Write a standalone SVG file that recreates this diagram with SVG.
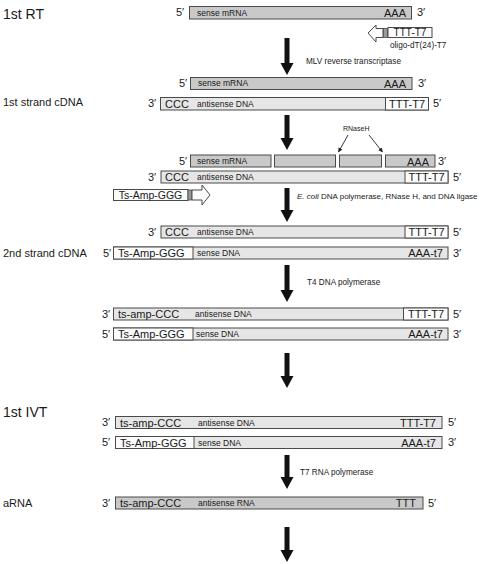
<svg xmlns="http://www.w3.org/2000/svg" width="480" height="564" viewBox="0 0 480 564">
<defs>
<style>
text{font-family:"Liberation Sans",Arial,sans-serif;fill:#1a1a1a}
.h1{font-size:14px}
.h2{font-size:11px}
.p{font-size:11px}
.s{font-size:11px}
.m{font-size:8.5px}
.lbl{font-size:8.2px}
.rn{font-size:7px}
.dk{fill:#c9c9c9;stroke:#4a4a4a;stroke-width:1}
.lt{fill:#e6e6e6;stroke:#4a4a4a;stroke-width:1}
.wt{fill:#fbfbfb;stroke:#4a4a4a;stroke-width:1}
.arr{fill:#111}
.thin{stroke:#222;stroke-width:0.9;fill:none}
</style>
<marker id="ah" viewBox="0 0 10 10" refX="9" refY="5" markerWidth="5" markerHeight="5" orient="auto">
<path d="M0,0 L10,5 L0,10 Z" fill="#222"/>
</marker>
</defs>
<rect width="480" height="564" fill="#ffffff"/>

<g id="stage-labels">
<text class="h1" x="3" y="19">1st RT</text>
<text class="h2" x="3" y="106">1st strand cDNA</text>
<text class="h2" x="3" y="257">2nd strand cDNA</text>
<text class="h1" x="3" y="417">1st IVT</text>
<text class="h2" x="3" y="507">aRNA</text>
</g>

<g id="row1-mRNA">
<text class="p" x="176" y="16">5′</text>
<rect class="dk" x="189.5" y="6.5" width="222" height="12.5"/>
<text class="m" x="197" y="15.5">sense mRNA</text>
<text class="s" x="406" y="17" text-anchor="end">AAA</text>
<text class="p" x="417" y="16">3′</text>
</g>

<g id="oligo-dT-T7">
<path class="wt" d="M368,33 L376,25 L376,28.5 L383,28.5 L383,37.5 L376,37.5 L376,42 Z"/>
<rect x="383.5" y="28.5" width="4" height="9" fill="#9a9a9a" stroke="#4a4a4a" stroke-width="0.8"/>
<rect class="wt" x="388" y="27.5" width="44" height="10"/>
<text x="410" y="36" text-anchor="middle" style="font-size:10px">TTT-T7</text>
<text class="lbl" x="390" y="48">oligo-dT(24)-T7</text>
</g>

<g id="label-mlv"><text class="lbl" x="306" y="64">MLV reverse transcriptase</text></g>

<g id="row2-mRNA">
<text class="p" x="179" y="87">5′</text>
<rect class="dk" x="190.5" y="77.5" width="221.5" height="12"/>
<text class="m" x="198" y="86">sense mRNA</text>
<text class="s" x="406" y="88" text-anchor="end">AAA</text>
<text class="p" x="418" y="87">3′</text>
</g>

<g id="row3-antisense">
<text class="p" x="148" y="107">3′</text>
<rect class="lt" x="160.5" y="97.5" width="268" height="12.5"/>
<rect class="wt" x="385.5" y="97.5" width="43" height="12.5"/>
<text class="s" x="165" y="107.5">CCC</text>
<text class="m" x="197" y="106.5">antisense DNA</text>
<text class="s" x="407" y="107.5" text-anchor="middle">TTT-T7</text>
<text class="p" x="433" y="107">5′</text>
</g>

<g id="label-rnaseh"><text class="rn" x="343" y="131">RNaseH</text></g>

<g id="row4-fragments">
<text class="p" x="179" y="165">5′</text>
<rect class="dk" x="190.5" y="155" width="80.5" height="12"/>
<rect class="dk" x="274.5" y="155" width="61" height="12"/>
<rect class="dk" x="339.5" y="155" width="42" height="12"/>
<rect class="dk" x="385.5" y="155" width="49.5" height="12"/>
<text class="m" x="197" y="163.5">sense mRNA</text>
<text class="s" x="429" y="165.5" text-anchor="end">AAA</text>
<text class="p" x="438" y="165">3′</text>
</g>

<g id="row5-antisense">
<text class="p" x="148" y="181">3′</text>
<rect class="lt" x="161" y="171" width="287" height="12"/>
<rect class="wt" x="405" y="171" width="43" height="12"/>
<text class="s" x="165" y="181">CCC</text>
<text class="m" x="197" y="180">antisense DNA</text>
<text class="s" x="426.5" y="181" text-anchor="middle">TTT-T7</text>
<text class="p" x="453" y="181">5′</text>
</g>

<g id="primer-ts-amp">
<rect class="wt" x="113.5" y="189.5" width="74.5" height="11"/>
<text x="150.5" y="198.8" text-anchor="middle" style="font-size:10.5px">Ts-Amp-GGG</text>
<rect x="188" y="190" width="4" height="10" fill="#9a9a9a" stroke="#4a4a4a" stroke-width="0.8"/>
<path class="wt" d="M192,190 L202,190 L202,185 L210,195 L202,205 L202,200 L192,200 Z"/>
</g>

<g id="label-ecoli"><text class="lbl" x="297" y="199" style="font-size:8px"><tspan font-style="italic">E. coli</tspan> DNA polymerase, RNase H, and DNA ligase</text></g>

<g id="row6-antisense">
<text class="p" x="148" y="236">3′</text>
<rect class="lt" x="161" y="226" width="287" height="12"/>
<rect class="wt" x="405" y="226" width="43" height="12"/>
<text class="s" x="165" y="236">CCC</text>
<text class="m" x="197" y="235">antisense DNA</text>
<text class="s" x="426.5" y="236" text-anchor="middle">TTT-T7</text>
<text class="p" x="453" y="236">5′</text>
</g>

<g id="row7-sense">
<text class="p" x="103" y="257">5′</text>
<rect class="lt" x="113.5" y="247" width="334.5" height="12"/>
<rect class="wt" x="113.5" y="247" width="79.5" height="12"/>
<text class="s" x="118" y="257">Ts-Amp-GGG</text>
<text class="m" x="197" y="256">sense DNA</text>
<text class="s" x="443" y="257" text-anchor="end">AAA-t7</text>
<text class="p" x="453" y="257">3′</text>
</g>

<g id="label-t4"><text class="lbl" x="307" y="285">T4 DNA polymerase</text></g>

<g id="row8-antisense">
<text class="p" x="102" y="318">3′</text>
<rect class="lt" x="113.5" y="308" width="334.5" height="12"/>
<rect class="wt" x="403.5" y="308" width="44.5" height="12"/>
<text class="s" x="118" y="318">ts-amp-CCC</text>
<text class="m" x="195" y="317">antisense DNA</text>
<text class="s" x="426" y="318" text-anchor="middle">TTT-T7</text>
<text class="p" x="453" y="318">5′</text>
</g>

<g id="row9-sense">
<text class="p" x="102" y="338">5′</text>
<rect class="lt" x="113.5" y="328" width="334.5" height="12"/>
<rect class="wt" x="113.5" y="328" width="79.5" height="12"/>
<text class="s" x="118" y="338">Ts-Amp-GGG</text>
<text class="m" x="196" y="337">sense DNA</text>
<text class="s" x="443" y="338" text-anchor="end">AAA-t7</text>
<text class="p" x="453" y="338">3′</text>
</g>

<g id="row10-antisense">
<text class="p" x="102" y="426">3′</text>
<rect class="lt" x="115.5" y="416.5" width="326.5" height="12"/>
<text class="s" x="120" y="426.5">ts-amp-CCC</text>
<text class="m" x="198" y="425.5">antisense DNA</text>
<text class="s" x="436" y="426.5" text-anchor="end">TTT-T7</text>
<text class="p" x="448" y="426">5′</text>
</g>

<g id="row11-sense">
<text class="p" x="102" y="446">5′</text>
<rect class="lt" x="115.5" y="436.5" width="326.5" height="12"/>
<rect class="wt" x="115.5" y="436.5" width="78.5" height="12"/>
<text class="s" x="120" y="446.5">Ts-Amp-GGG</text>
<text class="m" x="198" y="445.5">sense DNA</text>
<text class="s" x="436" y="446.5" text-anchor="end">AAA-t7</text>
<text class="p" x="448" y="446">3′</text>
</g>

<g id="label-t7"><text class="lbl" x="300" y="475">T7 RNA polymerase</text></g>

<g id="row12-aRNA">
<text class="p" x="102" y="507">3′</text>
<rect class="dk" x="115.5" y="497" width="307.5" height="12"/>
<text class="s" x="120" y="507">ts-amp-CCC</text>
<text class="m" x="198" y="506">antisense RNA</text>
<text class="s" x="416" y="507" text-anchor="end">TTT</text>
<text class="p" x="428" y="507">5′</text>
</g>

<g id="connectors">
<path class="arr" d="M284.5,38 H289.5 V63 H293.5 L287,75 L280.5,63 H284.5 Z"/>
<path class="arr" d="M284.5,115 H289.5 V138 H293.5 L287,150 L280.5,138 H284.5 Z"/>
<path class="arr" d="M284.5,188 H289.5 V210 H293.5 L287,222 L280.5,210 H284.5 Z"/>
<path class="arr" d="M284.5,265 H289.5 V290 H293.5 L287,302 L280.5,290 H284.5 Z"/>
<path class="arr" d="M284.5,353 H289.5 V376 H293.5 L287,388 L280.5,376 H284.5 Z"/>
<path class="arr" d="M284.5,455 H289.5 V477 H293.5 L287,489 L280.5,477 H284.5 Z"/>
<path class="arr" d="M284.5,527 H289.5 V550 H293.5 L287,562 L280.5,550 H284.5 Z"/>
<line class="thin" x1="348" y1="135" x2="338.5" y2="152" marker-end="url(#ah)"/>
<line class="thin" x1="369" y1="135" x2="382.5" y2="152" marker-end="url(#ah)"/>
</g>
</svg>
